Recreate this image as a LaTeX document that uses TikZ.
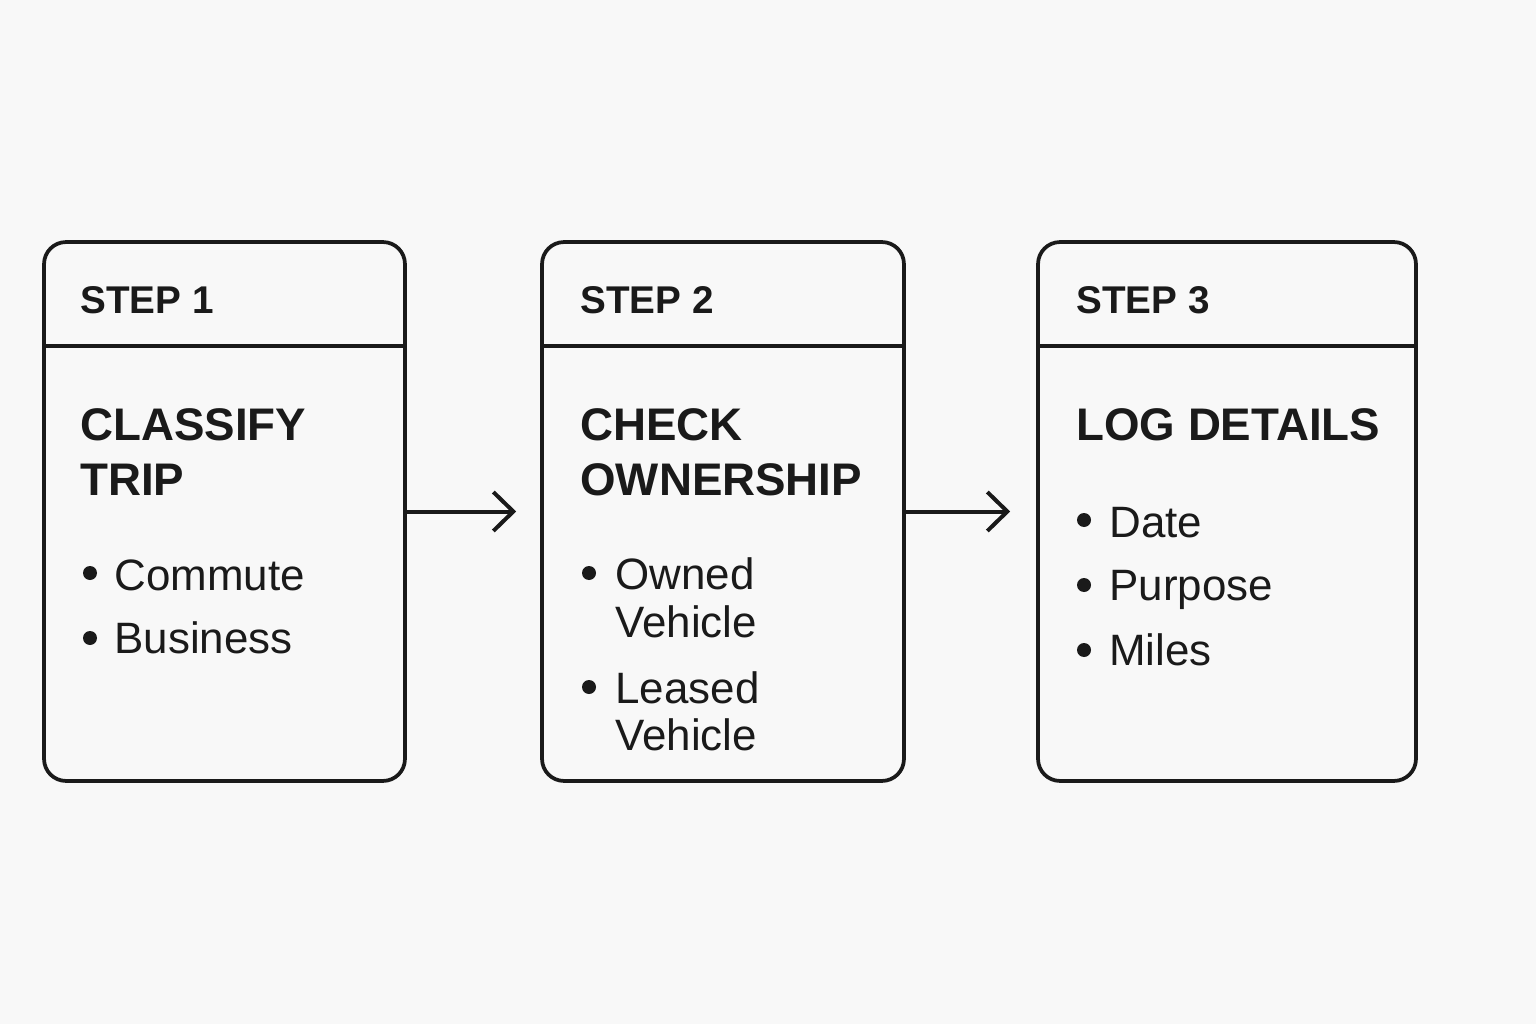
\documentclass[tikz,border=0pt]{standalone}
\usepackage{fontspec}
\setmainfont{Liberation Sans}
\usetikzlibrary{arrows.meta}
\definecolor{bg}{HTML}{F8F8F8}
\definecolor{ink}{HTML}{1A1A1A}
\begin{document}
\begin{tikzpicture}[x=0.02cm,y=-0.02cm,
  stepbox/.style={draw=ink, line width=0.075cm, rounded corners=0.44cm, fill=bg, inner sep=0pt},
  hdr/.style={anchor=base west, inner sep=0pt, font=\fontsize{22}{26}\selectfont\bfseries, text=ink},
  ttl/.style={anchor=base west, inner sep=0pt, font=\fontsize{26}{31}\selectfont\bfseries, text=ink},
  itm/.style={anchor=base west, inner sep=0pt, font=\fontsize{25}{30}\selectfont, text=ink},
  conn/.style={draw=ink, line width=0.08cm, -{Straight Barb[length=0.4cm,width=0.78cm,line width=0.08cm]}},
  rule/.style={draw=ink, line width=0.075cm},
  dot/.style={fill=ink}
]
\fill[bg] (0,0) rectangle (1536,1024);
\useasboundingbox (0,0) rectangle (1536,1024);

% boxes
\node[stepbox, minimum width=7.22cm, minimum height=10.78cm] (b1) at (224.5,511.5) {};
\node[stepbox, minimum width=7.24cm, minimum height=10.78cm] (b2) at (723,511.5) {};
\node[stepbox, minimum width=7.56cm, minimum height=10.78cm] (b3) at (1227,511.5) {};

\coordinate (hy) at (0,346);
\draw[rule] (b1.west |- hy) -- (b1.east |- hy);
\draw[rule] (b2.west |- hy) -- (b2.east |- hy);
\draw[rule] (b3.west |- hy) -- (b3.east |- hy);

% headers
\node[hdr] (h1) at (80,313) {STEP 1};
\node[hdr] (h2) at (580,313) {STEP 2};
\node[hdr] (h3) at (1076,313) {STEP 3};

% titles
\node[ttl] (t1a) at (80,440) {CLASSIFY};
\node[ttl] (t1b) at (80,495) {TRIP};
\node[ttl] (t2a) at (580,440) {CHECK};
\node[ttl] (t2b) at (580,495) {OWNERSHIP};
\node[ttl] (t3a) at (1076,440) {LOG DETAILS};

% items box 1
\fill[dot] (90,573) circle (7);
\node[itm] (i1a) at (114,590) {Commute};
\fill[dot] (90,638) circle (7);
\node[itm] (i1b) at (114,653) {Business};

% items box 2
\fill[dot] (589,573) circle (7);
\node[itm] (i2a) at (615,589) {Owned};
\node[itm] (i2b) at (615,637) {Vehicle};
\fill[dot] (589,687) circle (7);
\node[itm] (i2c) at (615,703) {Leased};
\node[itm] (i2d) at (615,750) {Vehicle};

% items box 3
\fill[dot] (1084,520) circle (7);
\node[itm] (i3a) at (1109,537) {Date};
\fill[dot] (1084,585) circle (7);
\node[itm] (i3b) at (1109,600) {Purpose};
\fill[dot] (1084,650) circle (7);
\node[itm] (i3c) at (1109,665) {Miles};

% arrows
\draw[conn, shorten >=0.48cm] (b1.east) -- (b2.west);
\draw[conn, shorten >=0.52cm] (b2.east) -- (b3.west);
\end{tikzpicture}
\end{document}
